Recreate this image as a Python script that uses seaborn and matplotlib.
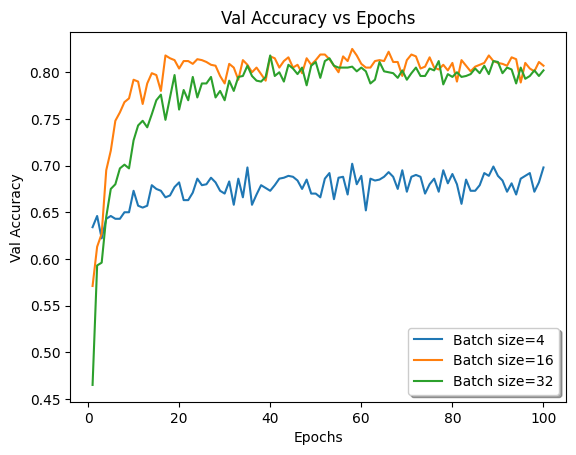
import numpy as np
import pandas as pd
import matplotlib
matplotlib.use("Agg")
import matplotlib.pyplot as plt
import seaborn as sns

epochs = list(range(1, 101))

acc_bs4 = [0.634, 0.646, 0.622, 0.643, 0.646, 0.643, 0.643, 0.650, 0.650, 0.673,
           0.657, 0.655, 0.657, 0.679, 0.675, 0.673, 0.666, 0.668, 0.677, 0.682,
           0.663, 0.663, 0.671, 0.686, 0.679, 0.680, 0.687, 0.682, 0.673, 0.670,
           0.683, 0.658, 0.686, 0.666, 0.698, 0.658, 0.669, 0.679, 0.676, 0.673,
           0.679, 0.686, 0.687, 0.689, 0.688, 0.684, 0.675, 0.685, 0.670, 0.670,
           0.666, 0.686, 0.692, 0.664, 0.687, 0.688, 0.669, 0.702, 0.680, 0.689,
           0.652, 0.686, 0.684, 0.685, 0.688, 0.693, 0.688, 0.675, 0.695, 0.672,
           0.688, 0.690, 0.688, 0.670, 0.680, 0.686, 0.672, 0.695, 0.681, 0.691,
           0.680, 0.659, 0.685, 0.673, 0.673, 0.679, 0.692, 0.689, 0.699, 0.689,
           0.684, 0.672, 0.681, 0.669, 0.686, 0.689, 0.692, 0.672, 0.682, 0.698]

acc_bs16 = [0.571, 0.613, 0.627, 0.695, 0.716, 0.748, 0.757, 0.768, 0.772, 0.792,
            0.790, 0.766, 0.788, 0.799, 0.797, 0.780, 0.818, 0.815, 0.813, 0.804,
            0.812, 0.812, 0.809, 0.814, 0.813, 0.811, 0.808, 0.807, 0.796, 0.788,
            0.809, 0.805, 0.792, 0.813, 0.808, 0.800, 0.805, 0.798, 0.791, 0.817,
            0.815, 0.805, 0.812, 0.816, 0.805, 0.808, 0.799, 0.815, 0.808, 0.813,
            0.819, 0.819, 0.814, 0.807, 0.800, 0.817, 0.812, 0.825, 0.818, 0.809,
            0.805, 0.805, 0.812, 0.813, 0.812, 0.822, 0.811, 0.811, 0.796, 0.813,
            0.819, 0.817, 0.804, 0.806, 0.816, 0.805, 0.803, 0.808, 0.802, 0.810,
            0.790, 0.813, 0.807, 0.801, 0.806, 0.808, 0.810, 0.818, 0.812, 0.810,
            0.809, 0.807, 0.816, 0.814, 0.789, 0.810, 0.804, 0.801, 0.811, 0.807]

acc_bs32 = [0.465, 0.593, 0.596, 0.645, 0.675, 0.680, 0.697, 0.701, 0.697, 0.727,
            0.743, 0.748, 0.741, 0.755, 0.770, 0.776, 0.749, 0.773, 0.797, 0.760,
            0.781, 0.770, 0.795, 0.773, 0.788, 0.788, 0.795, 0.773, 0.780, 0.770,
            0.791, 0.780, 0.795, 0.796, 0.807, 0.796, 0.791, 0.790, 0.795, 0.818,
            0.796, 0.800, 0.790, 0.808, 0.804, 0.798, 0.805, 0.786, 0.807, 0.811,
            0.794, 0.812, 0.815, 0.807, 0.805, 0.805, 0.805, 0.806, 0.801, 0.805,
            0.801, 0.788, 0.792, 0.811, 0.801, 0.800, 0.799, 0.794, 0.802, 0.792,
            0.799, 0.805, 0.796, 0.796, 0.804, 0.802, 0.812, 0.787, 0.798, 0.795,
            0.800, 0.795, 0.796, 0.798, 0.804, 0.799, 0.807, 0.798, 0.812, 0.811,
            0.799, 0.805, 0.803, 0.788, 0.805, 0.793, 0.796, 0.802, 0.796, 0.802]

labels = ["Batch size=4", "Batch size=16", "Batch size=32"]
series = [acc_bs4, acc_bs16, acc_bs32]
colors = sns.color_palette("tab10", 3)

fig, ax = plt.subplots(figsize=(6.4, 4.8), dpi=100)
for lab, vals, c in zip(labels, series, colors):
    sns.lineplot(x=epochs, y=vals, label=lab, color=c, ax=ax, linewidth=1.5)

ax.set_title("Val Accuracy vs Epochs")
ax.set_xlabel("Epochs")
ax.set_ylabel("Val Accuracy")
ax.legend(loc="lower right", shadow=True)
fig.savefig("out.png", dpi=100, bbox_inches="tight")
